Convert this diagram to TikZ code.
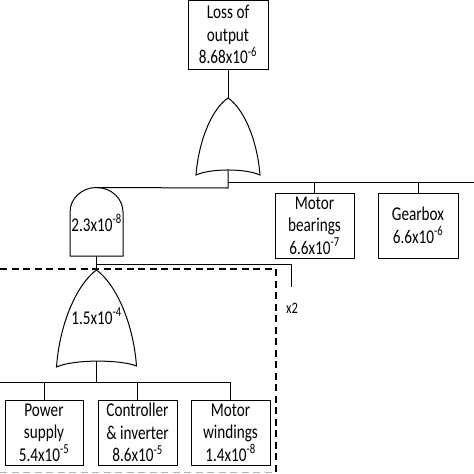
\documentclass[tikz,border=0pt]{standalone}
\usepackage{fontspec}
\setmainfont{Carlito}[FakeStretch=0.78]
\newcommand{\ee}[2]{#1x10\textsuperscript{#2}}
\begin{document}
\begin{tikzpicture}[x=1pt,y=-1pt,
  line width=1pt,
  evbox/.style={draw, line width=1pt, inner sep=0pt, align=center,
     font=\fontsize{19.5}{22.5}\selectfont},
  gatelbl/.style={inner sep=0pt, font=\fontsize{19.5}{20}\selectfont},
  gate/.style={draw, line width=1pt, fill=white},
  conn/.style={draw, line width=1pt},
  dashbox/.style={line width=1.7pt, dash pattern=on 7pt off 4.5pt}]
\useasboundingbox (0,0) rectangle (474,474);

% boxes
\node[evbox, minimum width=80pt, minimum height=69pt] (top) at (228,34.8) {Loss of\\output\\\ee{8.68}{-6}};
\node[evbox, minimum width=79pt, minimum height=65pt] (mb) at (314.5,225.5) {Motor\\bearings\\\ee{6.6}{-7}};
\node[evbox, minimum width=80pt, minimum height=65pt] (gb) at (418,225.5) {Gearbox\\\ee{6.6}{-6}};
\node[evbox, minimum width=78pt, minimum height=65pt] (ps) at (44,432.5) {Power\\supply\\\ee{5.4}{-5}};
\node[evbox, minimum width=79pt, minimum height=65pt] (ci) at (137.5,432.5) {Controller\\\& inverter\\\ee{8.6}{-5}};
\node[evbox, minimum width=79pt, minimum height=65pt] (mw) at (230.5,432.5) {Motor\\windings\\\ee{1.4}{-8}};

% gate reference points
\coordinate (or1top) at (228,98);
\coordinate (or1out) at (228,170);
\coordinate (andtop) at (96.5,187.5);
\coordinate (andout) at (96.5,256);
\coordinate (or2top) at (96.5,270);
\coordinate (or2out) at (96.5,361);

% OR gate 1
\path[gate] (196,175) .. controls (199,138) and (213,108) .. (or1top)
  .. controls (243,108) and (257,138) .. (260,175)
  .. controls (245,168.3) and (211,168.3) .. (196,175) -- cycle;

% AND gate
\path[gate] (70,256) -- (70,212) .. controls (70,198.5) and (81.9,187.5) .. (andtop)
  .. controls (111.1,187.5) and (123,198.5) .. (123,212) -- (123,256) -- cycle;
\node[gatelbl] (andlbl) at (96.5,223) {\ee{2.3}{-8}};

% OR gate 2
\path[gate] (56.5,367) .. controls (60,320) and (78.5,283) .. (or2top)
  .. controls (114.5,283) and (133,320) .. (136.5,366)
  .. controls (120,359.3) and (73,359.3) .. (56.5,367) -- cycle;
\node[gatelbl] (or2lbl) at (96.5,316) {\ee{1.5}{-4}};

% connectors top
\draw[conn] (top.south) -- (or1top);
\coordinate (j1a) at (228,188);
\coordinate (j1b) at (228,182);
\coordinate (busR) at (474,182);
\draw[conn] (or1out) -- (j1a) -- (andtop);
\draw[conn] (j1b) -- (busR);
\draw[conn] (mb.north) -- (mb.north |- j1b);
\draw[conn] (gb.north) -- (gb.north |- j1b);

% AND to OR2 and the x2 branch
\draw[conn] (andout) -- (or2top);
\coordinate (xb) at (96.5,264);
\coordinate (xc) at (291,264);
\coordinate (xd) at (291,287);
\draw[conn] (xb) -- (xc) -- (xd);
\node[font=\fontsize{16}{18}\selectfont, inner sep=0pt] (x2) at (292,308) {x2};

% bottom bus
\coordinate (j2) at (96.5,382);
\coordinate (bus2L) at (0,382);
\coordinate (bus2R) at (230.5,382);
\draw[conn] (or2out) -- (j2);
\draw[conn] (bus2L) -- (bus2R);
\draw[conn] (ps.north) -- (ps.north |- bus2L);
\draw[conn] (ci.north) -- (ci.north |- bus2L);
\draw[conn] (mw.north) -- (mw.north |- bus2L);

% dashed boundary
\coordinate (dA) at (0,269);
\coordinate (dB) at (276,269);
\coordinate (dC) at (276,474);
\coordinate (dD) at (0,472.5);
\coordinate (dE) at (276,472.5);
\draw[dashbox] (dA) -- (dB) -- (dC);
\draw[dashbox, gray!60] (dD) -- (dE);
\end{tikzpicture}
\end{document}
